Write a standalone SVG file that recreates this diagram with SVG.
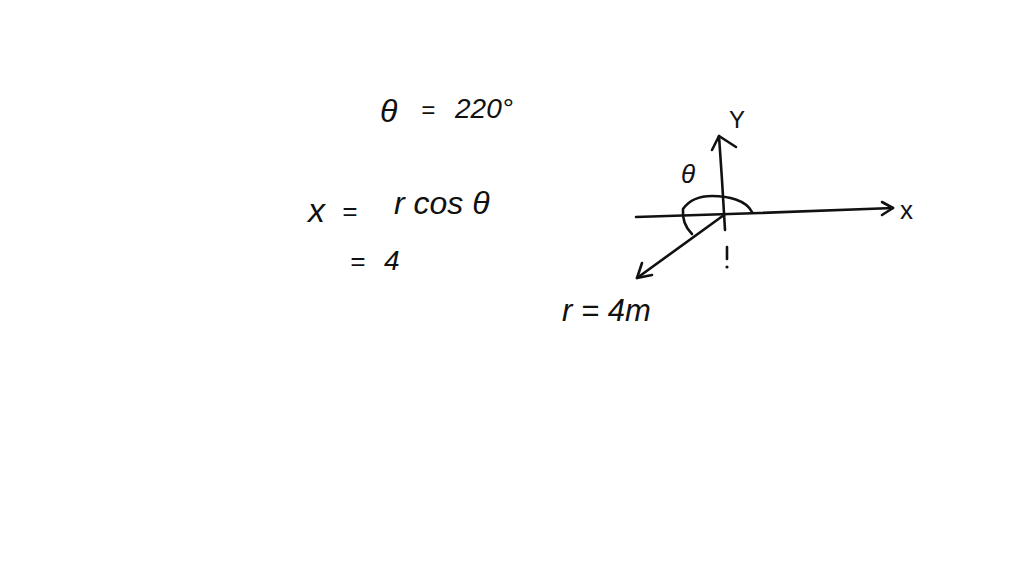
<svg xmlns="http://www.w3.org/2000/svg" width="1024" height="576" viewBox="0 0 1024 576">
<style>
.t{font-family:"Liberation Sans",Arial,sans-serif;font-style:italic;fill:#111}
.u{font-family:"Liberation Sans",Arial,sans-serif;fill:#111}
.s{fill:none;stroke:#111;stroke-width:2.6;stroke-linecap:round;stroke-linejoin:round}
</style>
<rect width="1024" height="576" fill="#fff"/>
<g id="equations">
<text class="t" x="380" y="122" font-size="32">θ</text>
<text class="t" x="421" y="118" font-size="24">=</text>
<text class="t" x="455" y="118" font-size="28">220°</text>
<text class="t" x="308" y="222" font-size="34">x</text>
<text class="t" x="342" y="220" font-size="26">=</text>
<text class="t" x="394" y="214" font-size="32">r cos θ</text>
<text class="t" x="350" y="270" font-size="26">=</text>
<text class="t" x="384" y="270" font-size="28">4</text>
</g>
<g id="axes">
<path class="s" d="M636,217 L760,213 L893,208"/>
<path class="s" d="M882,202 L893,208 L882,215"/>
<text class="u" x="900" y="219" font-size="26">x</text>
<path class="s" d="M725,230 L722,180 L719,136"/>
<path class="s" d="M712,150 L719,136 L736,147"/>
<text class="u" x="729" y="128" font-size="24">Y</text>
<text class="t" x="681" y="183" font-size="26">θ</text>
<path class="s" d="M692,234 C686,228 682,220 683,209 C690,199 700,196 712,196 C728,196 746,200 752,212"/>
</g>
<g id="r-vector">
<path class="s" d="M724,215 L637,278"/>
<path class="s" d="M642,263 L637,278 L652,275"/>
<path class="s" d="M727,247 L727,259"/>
<circle cx="727" cy="267" r="1.6" fill="#111"/>
<text class="t" x="562" y="321" font-size="31">r = 4m</text>
</g>
</svg>
